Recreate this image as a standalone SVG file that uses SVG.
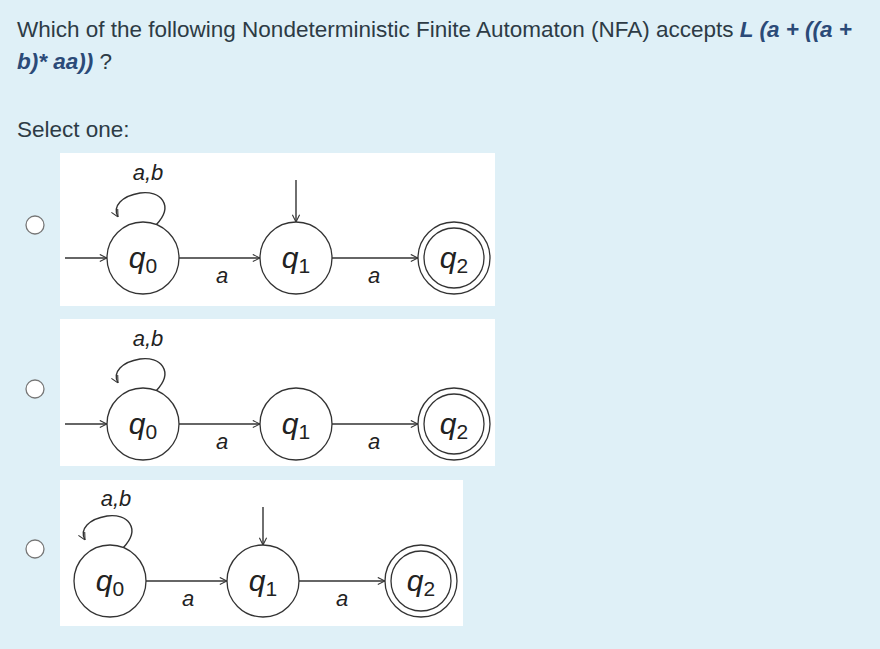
<svg xmlns="http://www.w3.org/2000/svg" width="880" height="649" viewBox="0 0 880 649">
<defs>
<marker id="ah" viewBox="0 0 10 10" refX="10" refY="5" markerWidth="9" markerHeight="9" markerUnits="userSpaceOnUse" orient="auto"><path d="M2,1 L10,5 L2,9" fill="none" stroke="#333" stroke-width="1.2"/></marker>
</defs>
<style>
.q{font-family:"Liberation Sans",Arial,sans-serif;font-size:22.5px;fill:#2d3b45}
.b{font-weight:bold;font-style:italic;fill:#2b4a78}
.st{fill:#fff;stroke:#333;stroke-width:1.3}
.e{fill:none;stroke:#333;stroke-width:1.4;marker-end:url(#ah)}
.lb{font-family:"Liberation Sans",Arial,sans-serif;font-size:22px;font-style:italic;fill:#222;text-anchor:middle}
.st2{font-family:"Liberation Sans",Arial,sans-serif;font-size:30px;font-style:italic;fill:#222;text-anchor:middle}
.sub{font-size:21px;font-style:normal}
.rb{fill:#fff;stroke:#777;stroke-width:1.3}
</style>
<rect width="880" height="649" fill="#dff0f7"/>
<text class="q" x="17" y="37">Which of the following Nondeterministic Finite Automaton (NFA) accepts <tspan class="b">L (a + ((a +</tspan></text>
<text class="q" x="17" y="69"><tspan class="b">b)* aa))</tspan> ?</text>
<text class="q" x="17" y="137">Select one:</text>
<circle class="rb" cx="35" cy="225" r="9"/>
<circle class="rb" cx="35" cy="389" r="9"/>
<circle class="rb" cx="35" cy="549" r="9"/>
<rect x="60" y="153" width="435" height="153" fill="#fff"/>
<rect x="60" y="319" width="435" height="147" fill="#fff"/>
<rect x="60" y="480" width="403" height="146" fill="#fff"/>
<g id="connectors">
<path class="e" d="M65,258 L107,258"/>
<path class="e" d="M156,225 C175,205 160,190 140,193 C122,196 112,206 118,217"/>
<path class="e" d="M179,258 L260,258"/>
<path class="e" d="M296,180 L296,222"/>
<path class="e" d="M332,258 L418,258"/>
<path class="e" d="M65,424 L107,424"/>
<path class="e" d="M156,391 C175,371 160,356 140,359 C122,362 112,372 118,383"/>
<path class="e" d="M179,424 L260,424"/>
<path class="e" d="M332,424 L418,424"/>
<path class="e" d="M123,548 C142,528 127,513 107,516 C89,519 79,529 85,540"/>
<path class="e" d="M146,581 L227,581"/>
<path class="e" d="M263,507 L263,545"/>
<path class="e" d="M299,581 L385,581"/>
</g>
<text class="lb" x="148" y="180">a,b</text>
<text class="lb" x="222" y="283">a</text>
<text class="lb" x="374" y="283">a</text>
<text class="lb" x="148" y="346">a,b</text>
<text class="lb" x="222" y="449">a</text>
<text class="lb" x="374" y="449">a</text>
<text class="lb" x="116" y="506">a,b</text>
<text class="lb" x="188" y="606">a</text>
<text class="lb" x="342" y="606">a</text>
<g id="p1q0"><circle class="st" cx="143" cy="258" r="36"/><text class="st2" x="143" y="268">q<tspan class="sub" dy="5">0</tspan></text></g>
<g id="p1q1"><circle class="st" cx="296" cy="258" r="36"/><text class="st2" x="296" y="268">q<tspan class="sub" dy="5">1</tspan></text></g>
<g id="p1q2"><circle class="st" cx="454" cy="258" r="36"/><circle class="st" cx="454" cy="258" r="30"/><text class="st2" x="454" y="268">q<tspan class="sub" dy="5">2</tspan></text></g>
<g id="p2q0"><circle class="st" cx="143" cy="424" r="36"/><text class="st2" x="143" y="434">q<tspan class="sub" dy="5">0</tspan></text></g>
<g id="p2q1"><circle class="st" cx="296" cy="424" r="36"/><text class="st2" x="296" y="434">q<tspan class="sub" dy="5">1</tspan></text></g>
<g id="p2q2"><circle class="st" cx="454" cy="424" r="36"/><circle class="st" cx="454" cy="424" r="30"/><text class="st2" x="454" y="434">q<tspan class="sub" dy="5">2</tspan></text></g>
<g id="p3q0"><circle class="st" cx="110" cy="581" r="36"/><text class="st2" x="110" y="591">q<tspan class="sub" dy="5">0</tspan></text></g>
<g id="p3q1"><circle class="st" cx="263" cy="581" r="36"/><text class="st2" x="263" y="591">q<tspan class="sub" dy="5">1</tspan></text></g>
<g id="p3q2"><circle class="st" cx="421" cy="581" r="36"/><circle class="st" cx="421" cy="581" r="30"/><text class="st2" x="421" y="591">q<tspan class="sub" dy="5">2</tspan></text></g>
</svg>
